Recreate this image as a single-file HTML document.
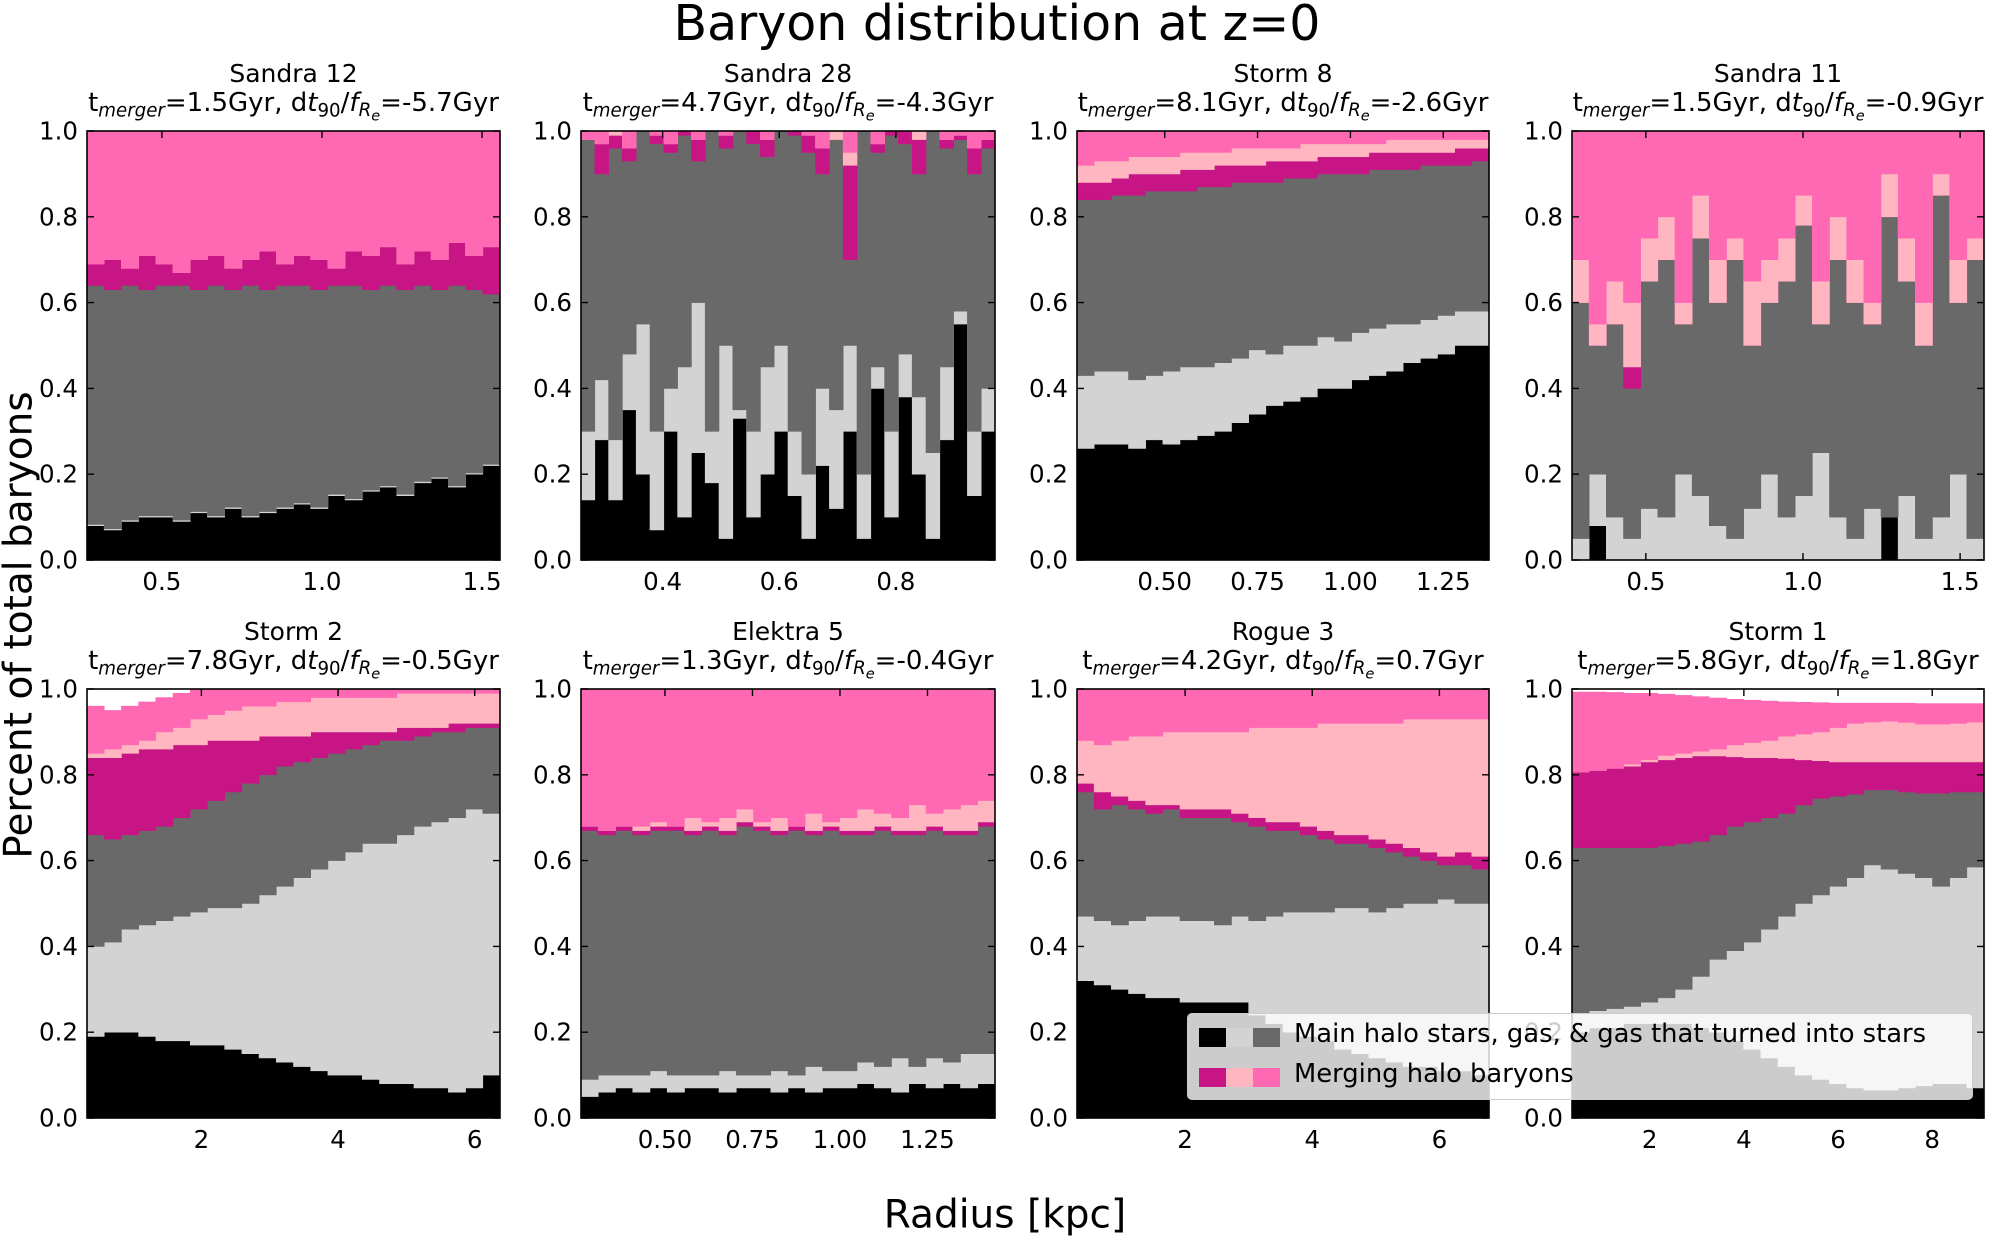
<!DOCTYPE html>
<html><head><meta charset="utf-8">
<style>
html,body{margin:0;padding:0;background:#fff;}
body{width:1994px;height:1237px;position:relative;overflow:hidden;font-family:"DejaVu Sans","Liberation Sans",sans-serif;color:#000;}
.t{position:absolute;white-space:nowrap;text-align:center;}
sub{font-size:70%;vertical-align:-0.3em;line-height:0;}
sub sub{font-size:80%;}
</style></head>
<body>
<div class="t" style="left:0;width:1994px;top:-5px;font-size:49px;">Baryon distribution at z=0</div>
<div class="t" style="left:19px;top:625px;font-size:39px;transform:translate(-50%,-50%) rotate(-90deg);">Percent of total baryons</div>
<div class="t" style="left:1005px;top:1215px;font-size:39px;transform:translate(-50%,-50%);">Radius [kpc]</div>
<div id="titles"></div>
<svg id="chart" width="1994" height="1237" style="position:absolute;left:0;top:0;" xmlns="http://www.w3.org/2000/svg"></svg>
<div style="position:absolute;left:1187px;top:1013px;width:786px;height:87px;background:rgba(255,255,255,0.8);border:1px solid #ccc;border-radius:5px;box-sizing:border-box;">
  <div style="position:absolute;left:11px;top:12px;height:24px;">
    <span style="position:absolute;left:0;top:2px;width:27px;height:19px;background:#000;"></span>
    <span style="position:absolute;left:27px;top:2px;width:27px;height:19px;background:#d3d3d3;"></span>
    <span style="position:absolute;left:54px;top:2px;width:27px;height:19px;background:#696969;"></span>
    <span style="position:absolute;left:95px;top:-7px;font-size:25.8px;white-space:nowrap;">Main halo stars, gas, &amp; gas that turned into stars</span>
  </div>
  <div style="position:absolute;left:11px;top:52px;height:24px;">
    <span style="position:absolute;left:0;top:2px;width:27px;height:19px;background:#c71585;"></span>
    <span style="position:absolute;left:27px;top:2px;width:27px;height:19px;background:#ffb6c1;"></span>
    <span style="position:absolute;left:54px;top:2px;width:27px;height:19px;background:#ff69b4;"></span>
    <span style="position:absolute;left:95px;top:-7px;font-size:25.8px;white-space:nowrap;">Merging halo baryons</span>
  </div>
</div>
<script>
const names = ["Sandra 12","Sandra 28","Storm 8","Sandra 11","Storm 2","Elektra 5","Rogue 3","Storm 1"];
const tMerger = ["1.5","4.7","8.1","1.5","7.8","1.3","4.2","5.8"];
const dt90 = ["-5.7","-4.3","-2.6","-0.9","-0.5","-0.4","0.7","1.8"];
const xDomain = [[0.266,1.556],[0.26,0.97],[0.264,1.373],[0.265,1.576],[0.326,6.37],[0.26,1.443],[0.3,6.78],[0.35,9.1]];
const xTicks = [[0.5,1.0,1.5],[0.4,0.6,0.8],[0.5,0.75,1.0,1.25],[0.5,1.0,1.5],[2,4,6],[0.5,0.75,1.0,1.25],[2,4,6],[2,4,6,8]];
const xTickLabels = [["0.5","1.0","1.5"],["0.4","0.6","0.8"],["0.50","0.75","1.00","1.25"],["0.5","1.0","1.5"],["2","4","6"],["0.50","0.75","1.00","1.25"],["2","4","6"],["2","4","6","8"]];
const yTicks = [0,0.2,0.4,0.6,0.8,1.0];
const yTickLabels = ["0.0","0.2","0.4","0.6","0.8","1.0"];
// cumulative tops of each layer, per panel
const blackTop = [
 [.08,.07,.09,.1,.1,.09,.11,.1,.12,.1,.11,.12,.13,.12,.15,.14,.16,.17,.15,.18,.19,.17,.2,.22],
 [.14,.28,.14,.35,.2,.07,.3,.1,.25,.18,.05,.33,.1,.2,.3,.15,.05,.22,.12,.3,.05,.4,.1,.38,.2,.05,.28,.55,.15,.3],
 [.26,.27,.27,.26,.28,.27,.28,.29,.3,.32,.34,.36,.37,.38,.4,.4,.42,.43,.44,.46,.47,.48,.5,.5],
 [0,.08,0,0,0,0,0,0,0,0,0,0,0,0,0,0,0,0,.1,0,0,0,0,0],
 [.19,.2,.2,.19,.18,.18,.17,.17,.16,.15,.14,.13,.12,.11,.1,.1,.09,.08,.08,.07,.07,.06,.07,.1],
 [.05,.06,.07,.06,.07,.06,.07,.07,.06,.07,.07,.06,.07,.06,.07,.07,.08,.07,.06,.08,.07,.08,.07,.08],
 [.32,.31,.3,.29,.28,.28,.27,.27,.27,.27,.24,.22,.2,.19,.18,.16,.15,.14,.13,.12,.12,.11,.11,.1],
 [.2,.21,.21,.22,.22,.22,.22,.21,.2,.18,.16,.14,.12,.1,.09,.08,.07,.065,.065,.07,.075,.08,.08,.07]
];
const lightTop = [
 [.083,.073,.093,.103,.103,.093,.113,.103,.123,.103,.113,.123,.133,.123,.153,.143,.163,.173,.153,.183,.193,.173,.203,.223],
 [.3,.42,.28,.48,.55,.3,.4,.45,.6,.3,.5,.35,.3,.45,.5,.3,.2,.4,.35,.5,.2,.45,.3,.48,.38,.25,.45,.58,.3,.4],
 [.43,.44,.44,.42,.43,.44,.45,.45,.46,.47,.49,.48,.5,.5,.52,.51,.53,.54,.55,.55,.56,.57,.58,.58],
 [.05,.2,.1,.05,.12,.1,.2,.15,.08,.05,.12,.2,.1,.15,.25,.1,.05,.12,.1,.15,.05,.1,.2,.05],
 [.4,.41,.44,.45,.46,.47,.48,.49,.49,.5,.52,.54,.56,.58,.6,.62,.64,.64,.66,.68,.69,.7,.72,.71],
 [.09,.1,.1,.1,.11,.1,.1,.1,.11,.1,.1,.11,.1,.12,.11,.11,.13,.12,.14,.12,.14,.13,.15,.15],
 [.47,.46,.45,.46,.47,.47,.46,.46,.45,.47,.46,.47,.48,.48,.48,.49,.49,.48,.49,.5,.5,.51,.5,.5],
 [.245,.25,.255,.26,.27,.28,.3,.33,.37,.39,.41,.44,.47,.5,.52,.54,.56,.59,.58,.57,.56,.54,.56,.585]
];
const dimTop = [
 [.64,.63,.64,.63,.64,.64,.63,.64,.63,.64,.63,.64,.64,.63,.64,.64,.63,.64,.63,.64,.63,.64,.63,.62],
 [.98,.9,.96,.93,1,.97,.95,.99,.93,1,.96,1,.97,.94,1,.99,.95,.9,.98,.7,1,.95,.99,.97,.9,1,.96,.98,.9,.96],
 [.84,.84,.85,.85,.86,.86,.86,.87,.87,.88,.88,.88,.89,.89,.9,.9,.9,.91,.91,.91,.92,.92,.92,.93],
 [.6,.5,.55,.4,.65,.7,.55,.75,.6,.7,.5,.6,.65,.78,.55,.7,.6,.55,.8,.65,.5,.85,.6,.7],
 [.66,.65,.66,.67,.68,.7,.72,.74,.76,.78,.8,.82,.83,.84,.85,.86,.87,.88,.88,.89,.9,.9,.91,.91],
 [.67,.66,.67,.66,.67,.67,.66,.67,.66,.68,.67,.66,.67,.66,.67,.66,.66,.67,.66,.66,.67,.66,.66,.68],
 [.76,.72,.73,.72,.71,.72,.7,.7,.7,.69,.68,.67,.67,.66,.65,.64,.64,.63,.62,.61,.6,.59,.59,.58],
 [.63,.63,.63,.63,.63,.635,.64,.645,.66,.68,.69,.7,.71,.73,.745,.75,.755,.765,.765,.76,.757,.757,.76,.76]
];
const magentaTop = [
 [.69,.70,.68,.71,.69,.67,.70,.71,.68,.70,.72,.69,.71,.70,.68,.72,.71,.73,.69,.72,.70,.74,.71,.73],
 [.98,.97,.99,.96,1,.99,.97,1,.98,1,.99,1,1,.98,1,1,.99,.96,.98,.92,1,.97,1,1,.98,1,.98,.99,.96,.98],
 [.88,.88,.89,.9,.9,.9,.91,.91,.92,.92,.92,.93,.93,.93,.94,.94,.94,.95,.95,.95,.95,.95,.96,.96],
 [.6,.5,.55,.45,.65,.7,.55,.75,.6,.7,.5,.6,.65,.78,.55,.7,.6,.55,.8,.65,.5,.85,.6,.7],
 [.84,.84,.85,.86,.86,.87,.87,.88,.88,.88,.89,.89,.89,.9,.9,.9,.9,.9,.91,.91,.91,.92,.92,.92],
 [.68,.67,.68,.67,.68,.68,.67,.68,.67,.69,.68,.67,.68,.67,.68,.67,.67,.68,.67,.67,.68,.67,.67,.69],
 [.78,.76,.75,.74,.73,.73,.72,.72,.72,.71,.7,.69,.69,.68,.67,.66,.66,.65,.64,.63,.62,.61,.62,.61],
 [.806,.81,.815,.82,.83,.835,.84,.844,.844,.842,.84,.84,.838,.835,.833,.83,.83,.83,.83,.83,.83,.83,.83,.83]
];
const lightPinkTop = [
 [.69,.70,.68,.71,.69,.67,.70,.71,.68,.70,.72,.69,.71,.70,.68,.72,.71,.73,.69,.72,.70,.74,.71,.73],
 [.98,.97,1,.96,1,.99,.97,1,.98,1,.99,1,1,.98,1,1,.99,.96,1,.95,1,.97,1,1,1,1,.98,.99,.96,.98],
 [.92,.93,.93,.94,.94,.94,.95,.95,.95,.96,.96,.96,.96,.97,.97,.97,.97,.97,.98,.98,.98,.98,.98,.98],
 [.7,.55,.65,.6,.75,.8,.6,.85,.7,.75,.65,.7,.75,.85,.65,.8,.7,.6,.9,.75,.6,.9,.7,.75],
 [.85,.86,.87,.88,.9,.91,.93,.94,.95,.96,.96,.97,.97,.98,.98,.98,.98,.98,.99,.99,.99,.99,.99,.99],
 [.68,.67,.68,.68,.69,.68,.7,.69,.7,.72,.69,.7,.68,.71,.69,.7,.72,.71,.7,.73,.71,.72,.73,.74],
 [.88,.87,.88,.89,.89,.9,.9,.9,.9,.9,.91,.91,.91,.91,.92,.92,.92,.92,.92,.93,.93,.93,.93,.93],
 [.806,.81,.815,.825,.835,.845,.85,.855,.86,.87,.875,.88,.89,.895,.9,.91,.92,.923,.925,.922,.918,.918,.92,.923]
];
const totalTop = [
 null,null,null,null,
 [.96,.95,.96,.97,.98,.99,1,1,1,1,1,1,1,1,1,1,1,1,1,1,1,1,1,1],
 null,null,
 [.993,.993,.992,.99,.99,.988,.985,.982,.979,.976,.974,.972,.97,.969,.968,.967,.967,.967,.967,.967,.966,.966,.966,.966]
];

const colX = [[87,500],[581,995],[1077,1489],[1572,1984]];
const rowY = [[131,560],[689,1118]];
const layerColors = ["#000000","#d3d3d3","#696969","#c71585","#ffb6c1","#ff69b4"];
const layerNames = ["main-halo-stars","main-halo-gas","main-halo-gas-to-stars","merging-halo-1","merging-halo-2","merging-halo-3"];
const NS = "http://www.w3.org/2000/svg";
const FONT = '"DejaVu Sans","Liberation Sans",sans-serif';
const svg = document.getElementById('chart');
const titles = document.getElementById('titles');

for (let p = 0; p < 8; p++) {
  const [x0, x1] = colX[p % 4];
  const [yT, yB] = rowY[Math.floor(p / 4)];
  const [d0, d1] = xDomain[p];
  const xs = v => x0 + (v - d0) / (d1 - d0) * (x1 - x0);
  const ys = v => yB - v * (yB - yT);
  const n = blackTop[p].length;
  const edge = i => d0 + (d1 - d0) * i / n;
  const tot = totalTop[p] || new Array(n).fill(1);
  const stack = [new Array(n).fill(0), blackTop[p], lightTop[p], dimTop[p], magentaTop[p], lightPinkTop[p], tot];
  const g = document.createElementNS(NS, 'g');
  
  
  svg.appendChild(g);
  for (let L = 0; L < 6; L++) {
    const lo = stack[L], hi = stack[L + 1];
    let d = '';
    for (let i = 0; i < n; i++) {
      const a = xs(edge(i)), b = xs(edge(i + 1));
      const h = ys(Math.max(hi[i], lo[i])).toFixed(2);
      d += (i === 0 ? 'M' : 'L') + a.toFixed(2) + ',' + h + 'L' + b.toFixed(2) + ',' + h;
    }
    for (let i = n - 1; i >= 0; i--) {
      const a = xs(edge(i)), b = xs(edge(i + 1));
      d += 'L' + b.toFixed(2) + ',' + ys(lo[i]).toFixed(2) + 'L' + a.toFixed(2) + ',' + ys(lo[i]).toFixed(2);
    }
    d += 'Z';
    const path = document.createElementNS(NS, 'path');
    path.setAttribute('d', d);
    path.setAttribute('fill', layerColors[L]);
    path.setAttribute('stroke', layerColors[L]);
    path.setAttribute('stroke-width', '0.6');
    
    
    g.appendChild(path);
  }
  const fr = document.createElementNS(NS, 'rect');
  fr.setAttribute('x', x0); fr.setAttribute('y', yT);
  fr.setAttribute('width', x1 - x0); fr.setAttribute('height', yB - yT);
  fr.setAttribute('fill', 'none'); fr.setAttribute('stroke', '#000'); fr.setAttribute('stroke-width', '1.6');
  
  
  g.appendChild(fr);
  yTicks.forEach((v, k) => {
    const y = ys(v);
    const t1 = document.createElementNS(NS, 'path');
    t1.setAttribute('d', `M${x0},${y}h7M${x1},${y}h-7`);
    t1.setAttribute('stroke', '#000'); t1.setAttribute('stroke-width', '1.4');
    
    
    g.appendChild(t1);
    const tx = document.createElementNS(NS, 'text');
    tx.setAttribute('x', x0 - 9); tx.setAttribute('y', y + 8.5);
    tx.setAttribute('text-anchor', 'end'); tx.setAttribute('font-size', '24.5');
    tx.setAttribute('font-family', FONT);
    tx.textContent = yTickLabels[k];
    
    
    g.appendChild(tx);
  });
  xTicks[p].forEach((v, k) => {
    const x = xs(v);
    const t1 = document.createElementNS(NS, 'path');
    t1.setAttribute('d', `M${x},${yB}v-7M${x},${yT}v7`);
    t1.setAttribute('stroke', '#000'); t1.setAttribute('stroke-width', '1.4');
    
    
    g.appendChild(t1);
    const tx = document.createElementNS(NS, 'text');
    tx.setAttribute('x', x); tx.setAttribute('y', yB + 30);
    tx.setAttribute('text-anchor', 'middle'); tx.setAttribute('font-size', '24.5');
    tx.setAttribute('font-family', FONT);
    tx.textContent = xTickLabels[p][k];
    
    
    g.appendChild(tx);
  });
  const cx = (x0 + x1) / 2;
  const t1 = document.createElement('div');
  t1.className = 't';
  t1.style.cssText = `left:${cx - 300}px;width:600px;top:${yT - 72}px;font-size:25px;`;
  t1.textContent = names[p];
  
  
  titles.appendChild(t1);
  const t2 = document.createElement('div');
  t2.className = 't';
  t2.style.cssText = `left:${cx - 300}px;width:600px;top:${yT - 43}px;font-size:26px;`;
  t2.innerHTML = `t<sub><i>merger</i></sub>=${tMerger[p]}Gyr, d<i>t</i><sub>90</sub>/<i>f</i><sub><i>R<sub>e</sub></i></sub>=${dt90[p]}Gyr`;
  
  
  titles.appendChild(t2);
}
</script>
</body></html>
